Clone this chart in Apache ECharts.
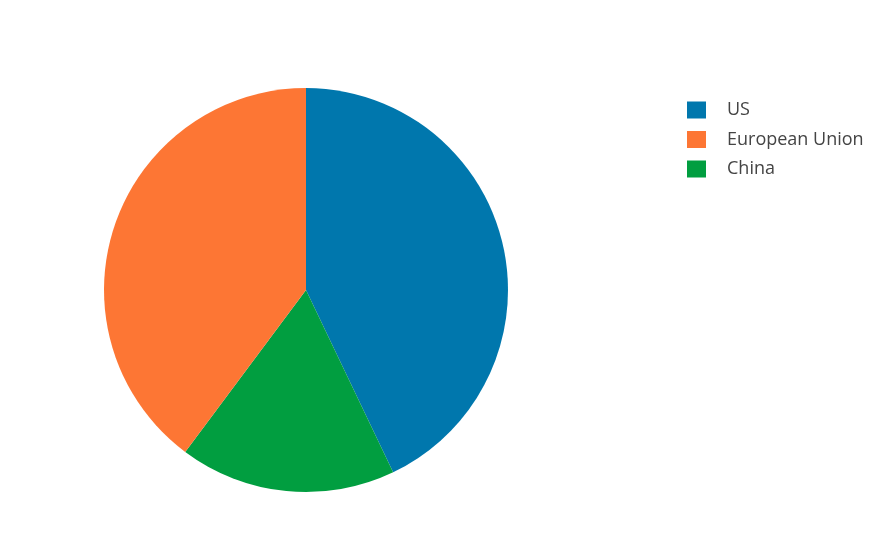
<!DOCTYPE html>
<html>
<head>
<meta charset="utf-8">
<script src="https://cdn.jsdelivr.net/npm/echarts@6/dist/echarts.min.js"></script>
<style>
  html, body { margin: 0; padding: 0; background: #fff; }
  #chart { width: 873px; height: 559px; }
</style>
</head>
<body>
<div id="chart"></div>
<script>
// slices in drawing order (clockwise from 12 o'clock)
var regions = ['US', 'China', 'European Union'];
var shares = [42.9, 17.3, 39.8];
var sliceColors = ['#0077ad', '#019e40', '#fd7634'];
// legend order as shown
var legendOrder = ['US', 'European Union', 'China'];

var chart = echarts.init(document.getElementById('chart'));

var pieData = [];
for (var i = 0; i < regions.length; i++) {
  pieData.push({
    name: regions[i],
    value: shares[i],
    itemStyle: { color: sliceColors[i] }
  });
}

var option = {
  animation: false,
  legend: {
    data: legendOrder,
    orient: 'vertical',
    left: 682,
    top: 96,
    itemWidth: 19,
    itemHeight: 17,
    itemGap: 11.5,
    icon: 'rect',
    textStyle: {
      fontFamily: 'Open Sans',
      fontSize: 18,
      color: '#444',
      padding: [0, 0, 0, 16]
    }
  },
  series: [{
    type: 'pie',
    center: [306, 290],
    radius: [0, 202],
    startAngle: 90,
    clockwise: true,
    label: { show: false },
    labelLine: { show: false },
    emphasis: { disabled: true },
    itemStyle: { borderWidth: 0 },
    data: pieData
  }]
};

chart.setOption(option);
</script>
</body>
</html>
